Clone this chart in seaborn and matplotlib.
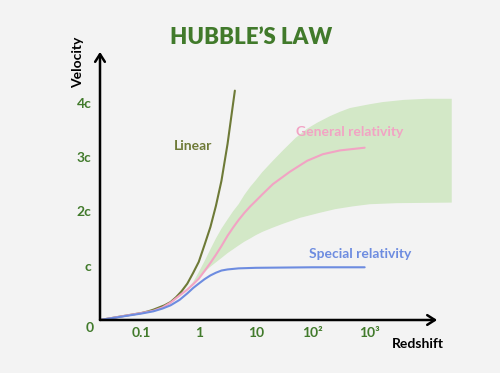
import matplotlib
matplotlib.use("Agg")
import matplotlib.pyplot as plt
import seaborn as sns
import pandas as pd

# values (redshift z, velocity in units of c)
linear_z = [0, 0.1, 0.13, 0.16, 0.2, 0.25, 0.32, 0.4, 0.5, 0.63, 0.8, 1.0, 1.26,
            1.6, 2.0, 2.5, 3.2, 4.3]
linear_v = [0, 0.13, 0.16, 0.19, 0.23, 0.27, 0.33, 0.42, 0.53, 0.67, 0.87, 1.07, 1.38,
            1.71, 2.10, 2.56, 3.24, 4.22]

general_z = [0, 0.1, 0.16, 0.23, 0.32, 0.46, 0.63, 0.8, 1.0, 1.26, 1.6, 2.0, 2.5, 3.2,
             4.0, 5.0, 6.3, 8, 10, 13, 20, 40, 80, 150, 300, 815]
general_v = [0, 0.13, 0.17, 0.23, 0.32, 0.45, 0.56, 0.66, 0.76, 0.90, 1.05, 1.2, 1.36, 1.55,
             1.70, 1.84, 1.97, 2.09, 2.19, 2.31, 2.5, 2.73, 2.93, 3.05, 3.12, 3.17]

special_z = [0, 0.1, 0.16, 0.23, 0.32, 0.46, 0.63, 0.8, 1.0, 1.26, 1.6, 2.0, 2.5, 3.2,
             5, 10, 100, 815]
special_v = [0, 0.12, 0.16, 0.21, 0.27, 0.37, 0.49, 0.59, 0.67, 0.75, 0.82, 0.87, 0.91, 0.93,
             0.95, 0.96, 0.97, 0.97]

band_upper_z = [0.6, 0.8, 1.0, 1.26, 1.6, 2.0, 2.5, 3.2, 4, 5, 6.3, 8, 10, 13, 20, 30, 50,
                80, 120, 200, 300, 450, 1000, 1700, 4000, 10000, 27500]
band_upper_v = [0.55, 0.70, 0.88, 1.08, 1.3, 1.5, 1.68, 1.85, 2.0, 2.13, 2.3, 2.45, 2.57,
                2.72, 2.93, 3.12, 3.35, 3.52, 3.63, 3.75, 3.83, 3.90, 3.97, 4.01, 4.05,
                4.07, 4.07]
band_lower_z = [0.6, 0.8, 1.0, 1.26, 1.6, 2.0, 2.5, 3.2, 4, 5, 6.3, 8, 10, 13, 20, 30, 60,
                130, 250, 500, 1000, 3000, 27500]
band_lower_v = [0.55, 0.68, 0.78, 0.88, 0.98, 1.06, 1.14, 1.23, 1.30, 1.37, 1.44, 1.50,
                1.56, 1.62, 1.70, 1.77, 1.88, 1.97, 2.04, 2.09, 2.13, 2.15, 2.16]

x_ticks = [0.1, 1, 10, 100, 1000]
x_tick_labels = ["0.1", "1", "10", "10²", "10³"]
y_ticks = [1, 2, 3, 4]
y_tick_labels = ["c", "2c", "3c", "4c"]

BG = "#f3f3f3"
GREEN_TXT = "#417a2b"
OLIVE = "#6e7a37"
PINK = "#f2a3c4"
BLUE = "#6d8ce0"
BAND = "#d3e8c7"

sns.set_style("white", {"axes.facecolor": BG, "figure.facecolor": BG})
plt.rcParams["font.family"] = ["Lato", "DejaVu Sans"]

fig = plt.figure(figsize=(5, 3.73), dpi=100)
ax = fig.add_axes([0.2, 0.1421, 0.722, 0.7373])
ax.set_xscale("symlog", linthresh=0.1, linscale=0.66)
ax.set_xlim(0, 4e4)
ax.set_ylim(0, 5.06)

# uncertainty band for general relativity: polygon upper edge -> lower edge back
ax.fill(band_upper_z + band_lower_z[::-1], band_upper_v + band_lower_v[::-1],
        color=BAND, lw=0, zorder=1)

lines = pd.concat([
    pd.DataFrame({"z": linear_z, "v": linear_v, "s": "Linear"}),
    pd.DataFrame({"z": general_z, "v": general_v, "s": "General relativity"}),
    pd.DataFrame({"z": special_z, "v": special_v, "s": "Special relativity"}),
])
sns.lineplot(data=lines, x="z", y="v", hue="s", estimator=None, sort=True,
             palette={"Linear": OLIVE, "General relativity": PINK,
                      "Special relativity": BLUE},
             lw=1.5, legend=False, ax=ax, zorder=3)

for sp in ax.spines.values():
    sp.set_visible(False)
arrow = dict(arrowstyle="->,head_length=0.55,head_width=0.35", lw=1.8,
             color="black", shrinkA=0, shrinkB=0)
ax.annotate("", xy=(0.934, 0), xytext=(0, 0), xycoords="axes fraction",
            arrowprops=arrow, zorder=5, annotation_clip=False)
ax.annotate("", xy=(0, 0.975), xytext=(0, 0), xycoords="axes fraction",
            arrowprops=arrow, zorder=5, annotation_clip=False)

ax.set_xticks(x_ticks)
ax.set_xticklabels(x_tick_labels)
ax.xaxis.set_minor_locator(matplotlib.ticker.NullLocator())
ax.set_yticks(y_ticks)
ax.set_yticklabels(y_tick_labels)
ax.tick_params(axis="x", direction="in", length=7, width=1.6, color="black",
               pad=5, labelsize=10, labelcolor=GREEN_TXT)
ax.tick_params(axis="y", direction="inout", length=8, width=1.6, color="black",
               pad=2, labelsize=10, labelcolor=GREEN_TXT)
for lab in ax.get_xticklabels() + ax.get_yticklabels():
    lab.set_fontweight("bold")
ax.set_xlabel("")
ax.set_ylabel("")

ax.text(-0.028, -0.03, "0", transform=ax.transAxes, ha="center", va="center",
        fontsize=10, fontweight="bold", color=GREEN_TXT)

fig.text(251 / 500, 1 - 37 / 373, "HUBBLE’S LAW", ha="center", va="center",
         fontsize=16, fontweight="heavy", color=GREEN_TXT)
fig.text(78 / 500, 1 - 62 / 373, "Velocity", rotation=90, ha="center",
         va="center", fontsize=10, fontweight="bold", color="black")
fig.text(418 / 500, 1 - 344 / 373, "Redshift", ha="center", va="center",
         fontsize=10, fontweight="bold", color="black")
fig.text(193 / 500, 1 - 146 / 373, "Linear", ha="center", va="center",
         fontsize=10, fontweight="bold", color=OLIVE)
fig.text(350 / 500, 1 - 132 / 373, "General relativity", ha="center",
         va="center", fontsize=10, fontweight="bold", color=PINK)
fig.text(360 / 500, 1 - 254 / 373, "Special relativity", ha="center",
         va="center", fontsize=10, fontweight="bold", color=BLUE)

fig.savefig("out.png", dpi=100, facecolor=BG)
